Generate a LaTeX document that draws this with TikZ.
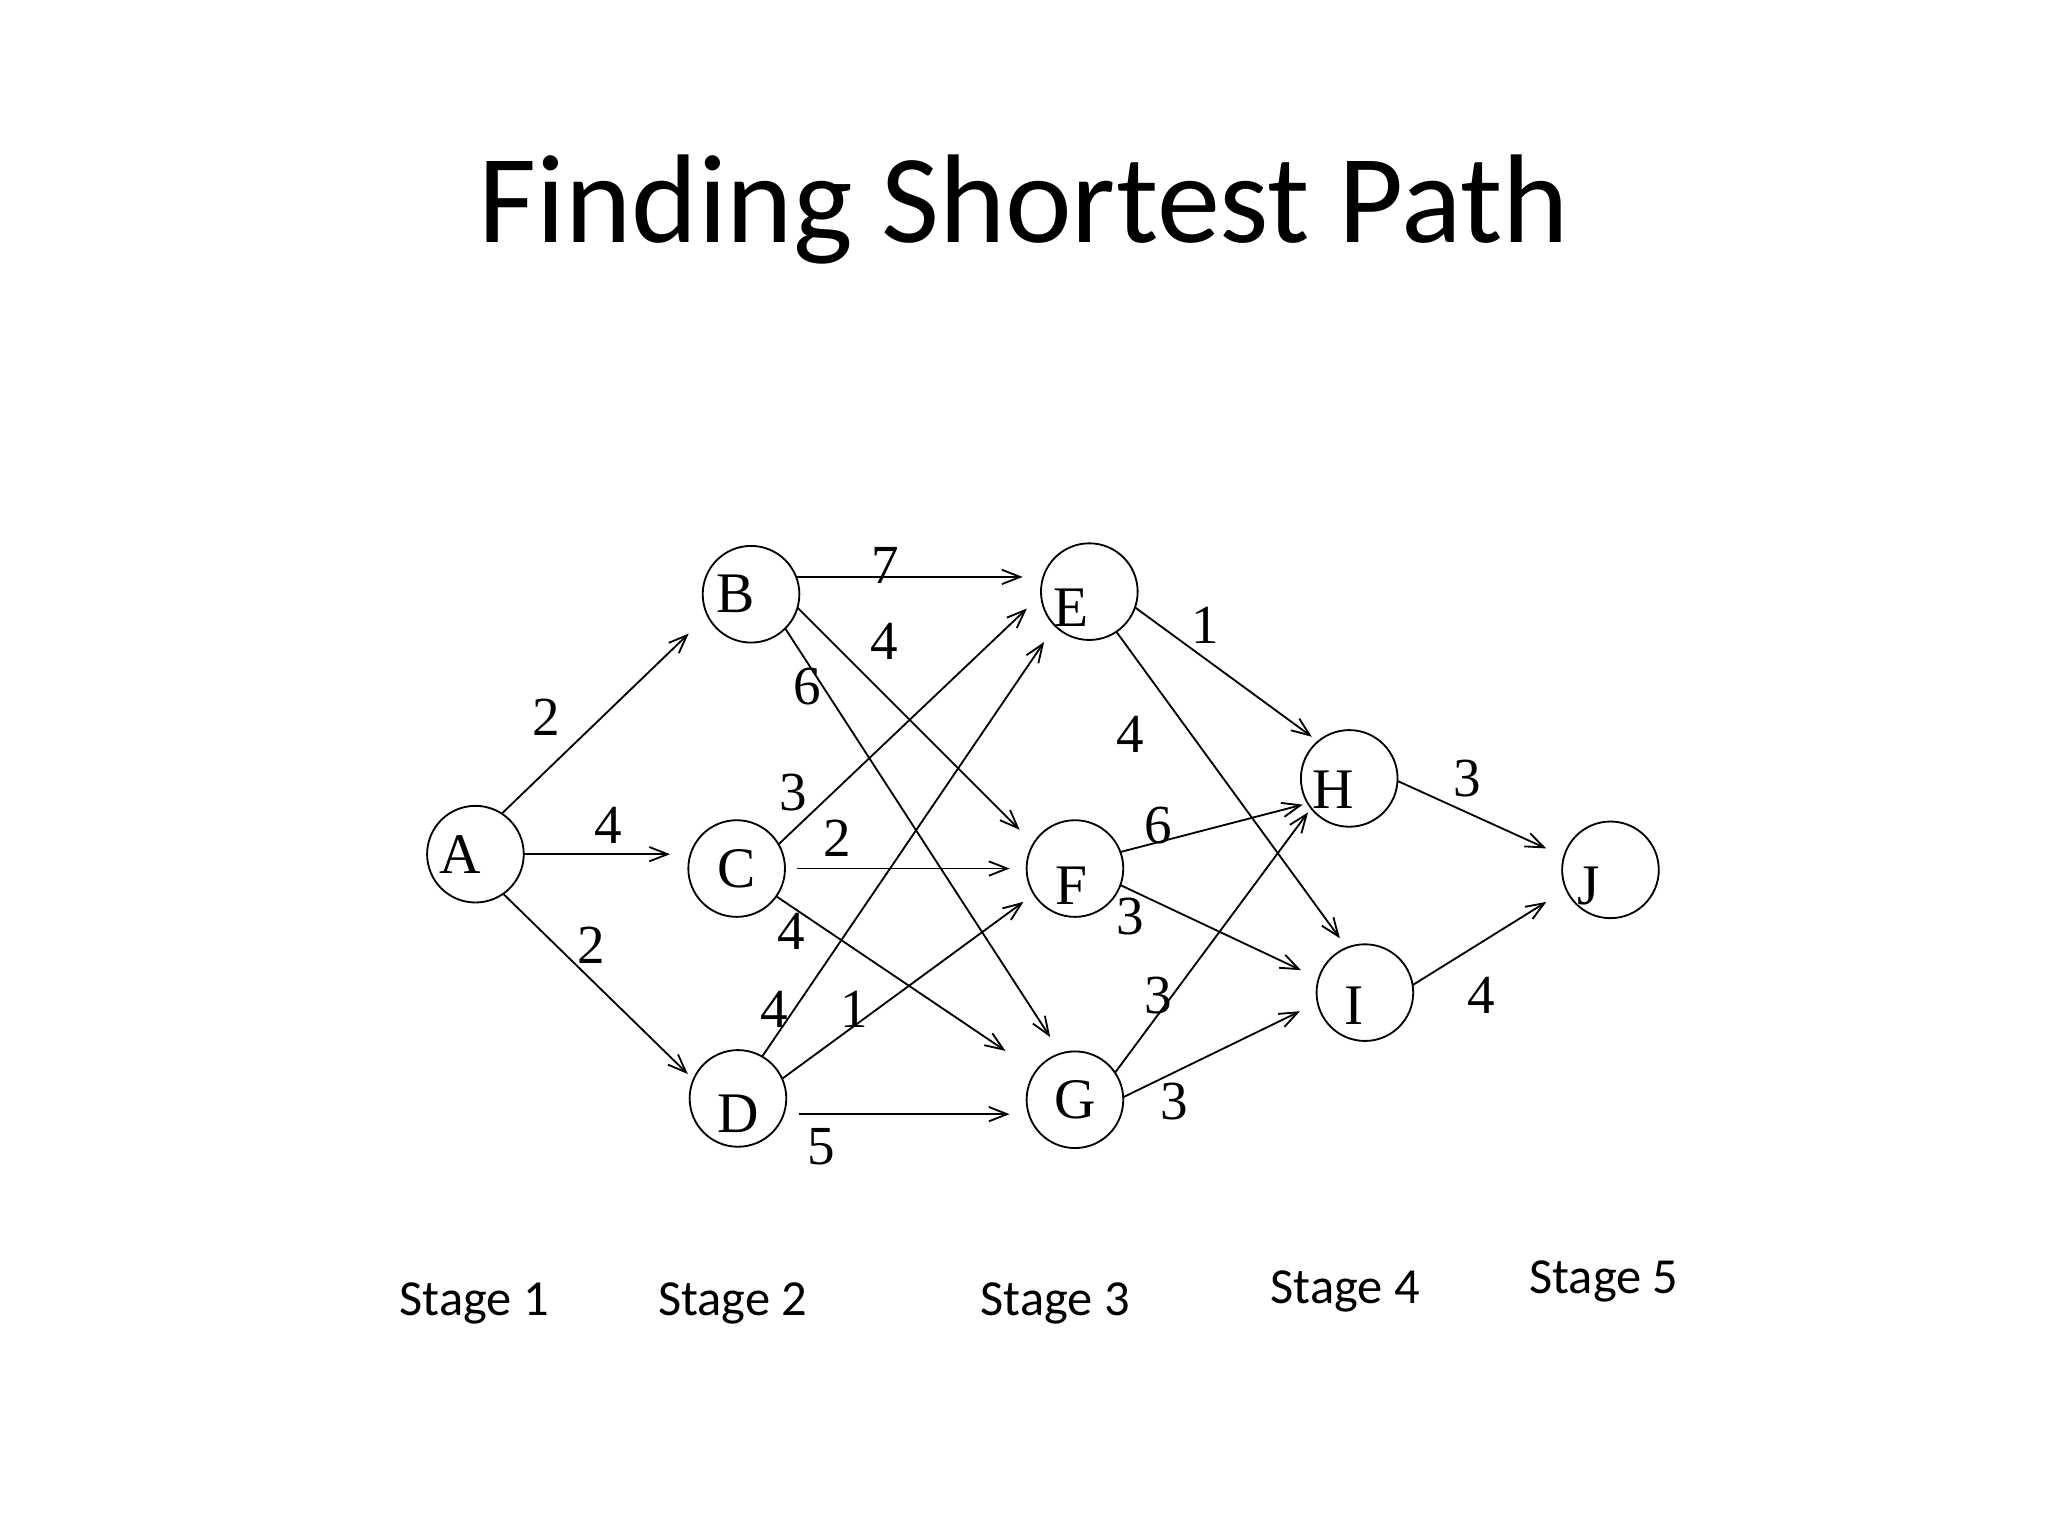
\documentclass[tikz,border=0pt]{standalone}
\usepackage{fontspec}
\setmainfont{Carlito}
\newfontfamily\graphfont{Liberation Serif}
\usepackage{tikz}
\usetikzlibrary{arrows.meta, calc}

\begin{document}
\begin{tikzpicture}[
    line width = 0.4pt,
    >={Straight Barb[length = 1.4mm, width = 1.1mm]},
    state/.style = {circle,
      draw,
      inner sep = 0pt,
      outer sep = 0pt,
      minimum size = 0.74cm},
    letter/.style = {inner sep = 0pt,
      font = \graphfont\fontsize{12.5}{12.5}\selectfont},
    weight/.style = {inner sep = 0pt,
      font = \graphfont\fontsize{12}{12}\selectfont},
    edge/.style = {->, shorten > = 1.5mm},
    stage/.style = {anchor = base,
      font = \fontsize{11}{13}\selectfont}
    ]

    \useasboundingbox (0, 0) rectangle (15.68, 11.76);

    \node at (7.84, 9.90) [anchor = base, font = \fontsize{27.5}{33}\selectfont, name = title] {Finding Shortest Path};

    \node at (3.64, 5.22) [state, name = A, label = {[letter, shift = {(-0.12, 0)}]center:A}] {};
    \node at (5.75, 7.21) [state, name = B, label = {[letter, shift = {(-0.12, 0)}]center:B}] {};
    \node at (5.64, 5.11) [state, name = C, label = {[letter]center:C}] {};
    \node at (5.65, 3.35) [state, name = D, label = {[letter, shift = {(0, -0.12)}]center:D}] {};
    \node at (8.34, 7.23) [state, name = E, label = {[letter, shift = {(-0.14, -0.12)}]center:E}] {};
    \node at (8.23, 5.11) [state, name = F, label = {[letter, shift = {(-0.03, -0.13)}]center:F}] {};
    \node at (8.23, 3.34) [state, name = G, label = {[letter]center:G}] {};
    \node at (10.33, 5.80) [state, name = H, label = {[letter, shift = {(-0.12, -0.09)}]center:H}] {};
    \node at (10.45, 4.16) [state, name = I, label = {[letter, shift = {(-0.08, -0.10)}]center:I}] {};
    \node at (12.33, 5.10) [state, name = J, label = {[letter, shift = {(-0.17, -0.12)}]center:J}] {};

    % stage 1 -> stage 2
    \draw [edge, shorten > = 2mm] (A.57) to (B.206);
    \draw [edge, shorten > = 1.4mm] (A.east) to (A.east -| C.west);
    \draw [edge, shorten > = 0.6mm] (A.-55) to (D.157);

    % stage 2 -> stage 3
    \draw [edge, shorten > = 1.4mm] (B.21) to (B.21 -| E.west);
    \draw [edge] (B.-16) to (F.149);
    \draw [edge] (B.-45) to (G.107);
    \draw [edge] (C.30) to (E.184);
    \draw [edge, shorten < = 0.9mm, shorten > = 1.3mm] (C.east) to (C.east -| F.west);
    \draw [edge, shorten > = 2.8mm] (C.-35) to (G.144);
    \draw [edge] (D.60) to (E.225);
    \draw [edge, shorten > = 1mm] (D.24) to (F.212);
    \draw [edge, shorten < = 1.2mm, shorten > = 1.3mm] (D.-19) to (D.-19 -| G.west);

    % stage 3 -> stage 4
    \draw [edge, shorten > = 0.6mm] (E.-19) to (H.130);
    \draw [edge, shorten > = 0.9mm] (E.-56) to (I.112);
    \draw [edge, shorten > = 0.4mm] (F.20) to (H.211);
    \draw [edge] (F.-20) to (I.163);
    \draw [edge, shorten > = 0.4mm] (G.34) to (H.218);
    \draw [edge] (G.3) to (I.192);

    % stage 4 -> stage 5
    \draw [edge] (H.-3) to (J.164);
    \draw [edge, shorten > = 1.8mm] (I.9) to (J.204);

    % weights
    \node at (4.18, 6.27) [weight, name = wAB] {2};
    \node at (4.66, 5.44) [weight, name = wAC] {4};
    \node at (4.53, 4.52) [weight, name = wAD] {2};
    \node at (6.78, 7.43) [weight, name = wBE] {7};
    \node at (6.77, 6.85) [weight, name = wBF] {4};
    \node at (6.18, 6.50) [weight, name = wBG] {6};
    \node at (6.07, 5.69) [weight, name = wCE] {3};
    \node at (6.41, 5.34) [weight, name = wCF] {2};
    \node at (6.06, 4.63) [weight, name = wCG] {4};
    \node at (5.93, 4.03) [weight, name = wDE] {4};
    \node at (6.54, 4.03) [weight, name = wDF] {1};
    \node at (6.29, 2.98) [weight, name = wDG] {5};
    \node at (9.23, 6.97) [weight, name = wEH] {1};
    \node at (8.65, 6.14) [weight, name = wEI] {4};
    \node at (8.87, 5.44) [weight, name = wFH] {6};
    \node at (8.65, 4.74) [weight, name = wFI] {3};
    \node at (8.87, 4.14) [weight, name = wGH] {3};
    \node at (8.99, 3.33) [weight, name = wGI] {3};
    \node at (11.23, 5.80) [weight, name = wHJ] {3};
    \node at (11.34, 4.14) [weight, name = wIJ] {4};

    \node at (3.63, 1.69) [stage, name = s1] {Stage 1};
    \node at (5.61, 1.69) [stage, name = s2] {Stage 2};
    \node at (8.08, 1.69) [stage, name = s3] {Stage 3};
    \node at (10.30, 1.78) [stage, name = s4] {Stage 4};
    \node at (12.28, 1.86) [stage, name = s5] {Stage 5};

  \end{tikzpicture}
\end{document}
